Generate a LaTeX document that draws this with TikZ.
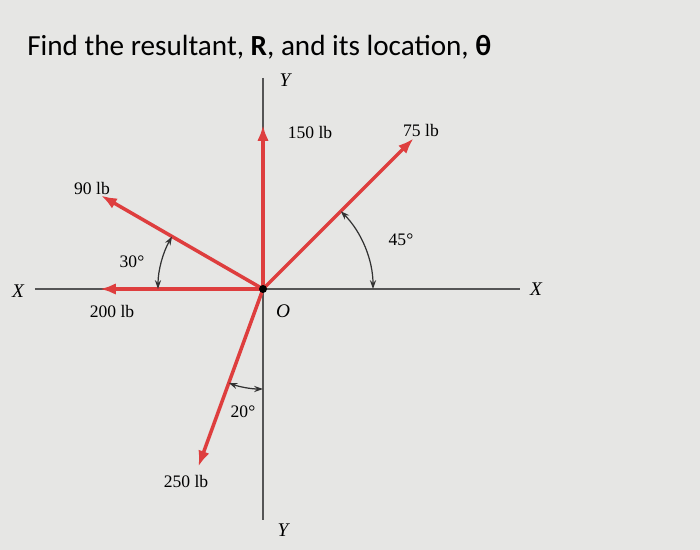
\documentclass[tikz,border=0pt]{standalone}
\usepackage{fontspec}
\setmainfont{Liberation Serif}
\newfontfamily\titlefont{Carlito}
\usetikzlibrary{arrows.meta,positioning}
\definecolor{forcered}{RGB}{222,62,62}
\definecolor{paper}{RGB}{230,230,228}
\definecolor{axisgray}{RGB}{85,85,85}
\tikzset{
  force/.style={draw=forcered,line width=2pt,-{Latex[length=9pt,width=6.5pt]}},
  axisline/.style={draw=axisgray,line width=0.7pt},
  anglearc/.style={draw=black!80,line width=0.7pt,{Stealth[length=5pt,width=3.5pt]}-{Stealth[length=5pt,width=3.5pt]}},
  lbl/.style={font=\fontsize{10}{12}\selectfont,inner sep=1pt},
  axlbl/.style={font=\fontsize{11}{13}\selectfont\itshape,inner sep=1pt}
}
\begin{document}
\begin{tikzpicture}
  % page and background
  \fill[paper] (-5.26,-5.22) rectangle (8.74,5.78);
  \useasboundingbox (-5.26,-5.22) rectangle (8.74,5.78);
  \node[anchor=west,font=\titlefont\fontsize{16.6}{19}\selectfont,inner sep=0pt] (title) at (-4.72,4.84)
    {Find the resultant, \textbf{R}, and its location, \textbf{θ}};
  % axes
  \coordinate (O) at (0,0);
  \coordinate (xl) at (-4.56,0);
  \coordinate (xr) at (5.14,0);
  \coordinate (yt) at (0,4.22);
  \coordinate (yb) at (0,-4.62);
  \draw[axisline] (xl) -- (xr);
  \draw[axisline] (yt) -- (yb);
  \node[axlbl] (Xl) at (-4.9,-0.04) {X};
  \node[axlbl] (Xr) at (5.46,0) {X};
  \node[axlbl] (Yt) at (0.44,4.18) {Y};
  \node[axlbl] (Yb) at (0.4,-4.82) {Y};
  \node[axlbl] (Olbl) at (0.4,-0.44) {O};
  % forces
  \coordinate (f150) at (90:3.28);
  \coordinate (f75) at (45:4.26);
  \coordinate (f90) at (150:3.74);
  \coordinate (f200) at (180:3.26);
  \coordinate (f250) at (250:3.78);
  \foreach \f in {f150,f75,f90,f200,f250}
    \draw[force] (O) -- (\f);
  \node[lbl] (l150) at (0.94,3.14) {150 lb};
  \node[lbl] (l75) at (3.16,3.18) {75 lb};
  \node[lbl] (l90) at (-3.42,2.02) {90 lb};
  \node[lbl] (l200) at (-3.02,-0.44) {200 lb};
  \node[lbl] (l250) at (-1.54,-3.84) {250 lb};
  % angles
  \draw[anglearc] (180:2.1) arc[start angle=180,end angle=150,radius=2.1];
  \draw[anglearc] (0:2.2) arc[start angle=0,end angle=45,radius=2.2];
  \draw[anglearc] (270:2.0) arc[start angle=270,end angle=250,radius=2.0];
  \node[lbl] (a30) at (-2.62,0.54) {30°};
  \node[lbl] (a45) at (2.76,0.98) {45°};
  \node[lbl] (a20) at (-0.4,-2.46) {20°};
  \fill[black] (O) circle (0.08);
\end{tikzpicture}
\end{document}
